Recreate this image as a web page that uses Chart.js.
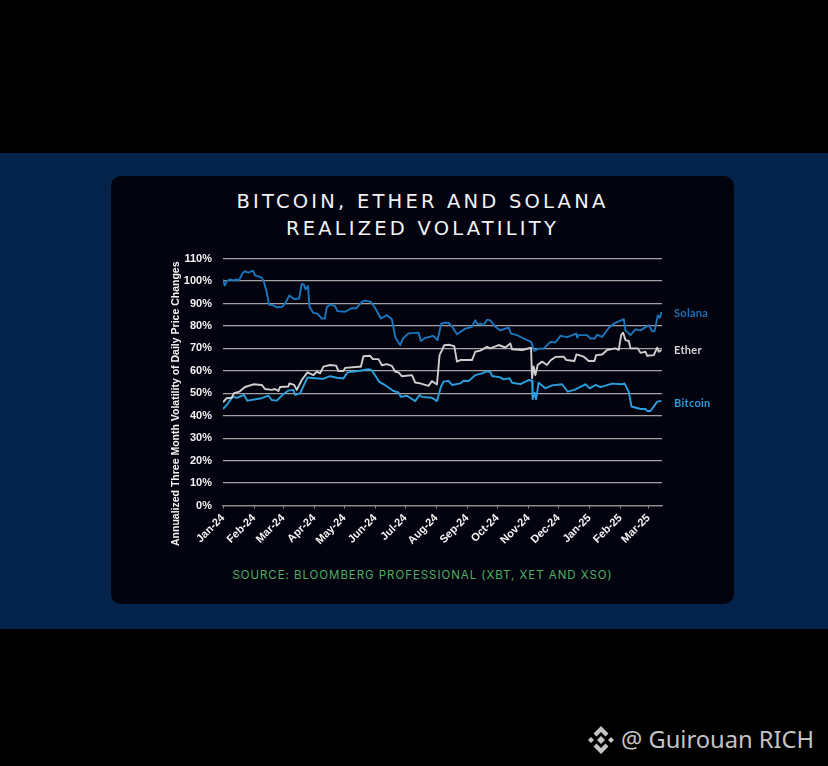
<!DOCTYPE html>
<html><head><meta charset="utf-8">
<style>
html,body{margin:0;padding:0;background:#000;width:828px;height:766px;overflow:hidden}
#band{position:absolute;left:0;top:153px;width:828px;height:476px;background:#03234a}
#card{position:absolute;left:111px;top:176px;width:623px;height:428px;background:#02030f;border-radius:10px}
.t{position:absolute;white-space:nowrap;text-align:center}
#title{left:111px;width:623px;top:188px;color:#f0f2f4;font:400 19.5px/27px "DejaVu Sans",sans-serif;letter-spacing:3.2px}
#source{left:111px;width:623px;top:567px;color:#4fae62;font:400 11.5px/16px "Inter",sans-serif;letter-spacing:.95px}
#wm{left:621px;top:724px;color:#c4c4c4;font:400 23.7px/30px "Noto Sans",sans-serif}
#logo{position:absolute;left:587px;top:726px}
#wrap{position:absolute;left:160px;top:241px;width:560px;height:314px}
</style></head><body>
<div id="band"></div><div id="card"></div>
<div class="t" id="title">BITCOIN, ETHER AND SOLANA<br>REALIZED VOLATILITY</div>
<div id="wrap"><canvas id="c" width="560" height="314"></canvas></div>
<div class="t" id="source">SOURCE: BLOOMBERG PROFESSIONAL (XBT, XET AND XSO)</div>
<svg id="logo" width="28" height="28" viewBox="0 0 28 28" fill="#c4c4c4">
<path d="M14 0l7.500 7.500-3 3L14 6l-4.500 4.500-3-3z"/><path d="M14 28l7.500-7.500-3-3L14 22l-4.500-4.500-3 3z"/>
<path d="M4 11L7 14 4 17 1 14z"/><path d="M24 11L27 14 24 17 21 14z"/>
<path d="M14 10L18 14 14 18 10 14z"/>
</svg>
<div class="t" id="wm">@ Guirouan RICH</div>
<script src="https://cdn.jsdelivr.net/npm/chart.js@4"></script>
<script>
const tickDays=[0,31,60,91,121,152,182,213,244,274,305,335,366,397,425];
const tickLabels=["Jan-24","Feb-24","Mar-24","Apr-24","May-24","Jun-24","Jul-24","Aug-24","Sep-24","Oct-24","Nov-24","Dec-24","Jan-25","Feb-25","Mar-25"];
const yTicks=[0,10,20,30,40,50,60,70,80,90,100,110];

const solanaDays=[0,1.7,3.7,7,10,13.7,16,19.7,22,25.3,30,32,38.7,41,43.7,46,50,53.7,58.7,62,66.3,71,76,78.7,81,82.3,85,86.3,90.3,94.3,98.7,101.7,103.7,107,112,114.3,122,128.7,133,138.7,142,147.7,152,157.7,163.7,168.7,172,173.7,177,179.7,185.3,195.3,197.7,202,207,210,214.3,218,222,225.3,228.7,233.7,242,248.7,252,254.3,257,260.3,263.7,267,272,277,285.3,287.700,293.7,300.3,307.7,311,315.3,320.3,327,332,337,343.7,353,353.7,355.3,363.7,367,371.3,373.7,378.7,385.3,390.3,400.3,402,407,412,417,425.3,428.7,431,434.3,436.3,438];
const solanaValues=[100.7,98,100,100.7,100.3,100.7,100.3,103.7,104.4,103.7,104.6,102.5,101.5,99.5,95,89.5,89.2,88.3,88.4,90,93.6,92,92.2,98.7,98.4,96.3,97.8,88.5,85.8,85.5,83.3,83.3,88.4,89.6,88.8,86.6,86.3,88,87.8,90.7,91.3,90.7,88,83.3,84.8,83,75.2,73.7,71.5,74.4,76.7,77,73.3,74.7,75.2,75.6,73.7,81,81.5,81.3,79.9,76.3,78.8,79.6,82.5,80.7,81,80.4,82.8,82.5,79.6,78,79.3,76.6,75.9,74.4,72.9,68.9,69.9,69.9,72.9,72.6,75.6,75,76.6,74.8,75.9,75.9,74.4,74.4,76.1,75.1,79.1,81,83,78,75.9,78.5,78,80.3,77.6,77.6,84.7,83.6,86.2];

const etherDays=[0,3.7,8.7,11,16.3,22,30.3,38.7,42,48.7,52,55.3,57,65.3,66.3,71,73.7,78.7,84.3,90.3,93.7,97,100.3,107,113,115.3,120.3,122,135.3,137.7,140.3,147,149.7,155.3,158.7,163.7,168.7,172,175.3,178.7,188.7,192,197,205.3,208.7,213.7,216.3,218.7,221,225.3,231,233.7,237,248.7,252,257,263.7,267,275.3,282,287,288.7,298.7,302,307.7,308.7,310.3,312,314.3,318.7,323.7,327,332,340.3,343,351,353,360.3,365.3,371,372.7,378.7,383.7,392,395.3,397.7,399.7,402,405.3,407,414.3,417,422,423.7,430.3,433.7,435.3,438];
const etherValues=[46,47.8,48,50,50.7,52.8,54,53.7,51.9,51.5,51.9,51,52.8,53,54.4,53.7,51.5,55.9,59.3,58.1,59.6,58.9,61.9,62.6,62.3,59.9,59.9,61.3,61.8,61.8,66.5,66.7,65.2,65.2,62.5,63,62.2,59.6,59.3,57.6,58.1,54.8,54.4,53.3,55.4,53.9,67,69.2,71.4,71.6,71,64.1,64.8,64.8,68.5,69,70.7,70,71.5,70.4,72.2,69.6,69.3,69.6,70.3,56.7,61.9,58.1,62.6,64.1,62.6,64.6,66.2,66.3,64.8,64.4,67.3,66.3,64.4,64.4,67,67.3,69.3,70,69.3,75.9,77,73.7,73.3,70,70,68,68.5,66.7,67,70.3,68.5,69.3];

const bitcoinDays=[0,4.3,9.7,13.7,21,24.3,38.7,45.3,48.7,53.7,60.3,65.3,70.3,72,77,84.3,92,100.3,103.7,107,113.7,120.3,124.3,135.3,145.3,148.7,156,162,170.3,175.3,177.7,183.7,192,196.3,198.7,208.7,213.7,217.7,220.3,225.3,228.7,237,240.3,245.3,252,258.7,263.7,267,268.7,277,280.3,286.3,288.7,297,305.3,308.7,309.3,311.3,312.7,315.3,322,328.7,338.7,344.3,351,362,366.3,372,377,388.7,398.7,401,405.3,408,417,422,423.7,427,433.7,438];
const bitcoinValues=[43,45.1,48.5,48,49.3,46.7,47.8,49,47,46.7,49.6,51.2,51.5,49.3,50,57,56.7,56.4,57.1,57.6,56.9,56.6,59.3,59.9,60.7,60.3,55.1,53.6,51,50.4,48.4,48.9,46.5,49.2,48.4,48,46.5,52.9,55.2,55.5,53.7,54.4,55.6,55.5,58.1,58.9,59.8,59.5,57.7,57.1,56.2,56.7,54.7,54.1,55.9,55.6,47.3,50.3,47.3,54.7,52.2,53.5,54,50.7,51.5,54,52.2,53.7,52.7,54.3,54,54.4,50.7,44.1,43,43,42.1,42.1,46.3,46.6];

const pairs=(xs,ys)=>xs.map((x,i)=>({x,y:ys[i]}));
const seriesList=[
 {label:"Solana",days:solanaDays,values:solanaValues,color:"#1b76bd",text:"#1f70b4",dy:1},
 {label:"Ether",days:etherDays,values:etherValues,color:"#cfcfcf",text:"#d4d4d4",dy:1},
 {label:"Bitcoin",days:bitcoinDays,values:bitcoinValues,color:"#2aa0de",text:"#2a9ada",dy:3}
];
const endLabels={id:"endLabels",afterDatasetsDraw(chart){
  const {ctx,scales:{y},chartArea}=chart;
  ctx.save();ctx.font='700 11px Lato, sans-serif';ctx.textBaseline='middle';ctx.textAlign='left';
  ctx.letterSpacing='0.3px';
  seriesList.forEach(s=>{
    ctx.fillStyle=s.text;
    ctx.fillText(s.label,chartArea.right+12,y.getPixelForValue(s.values[s.values.length-1])+s.dy);
  });
  ctx.restore();
}};
new Chart(document.getElementById("c"),{
 type:"line",
 data:{datasets:seriesList.map(s=>({label:s.label,data:pairs(s.days,s.values),borderColor:s.color,borderWidth:1.9,pointRadius:0,tension:0,borderJoinStyle:"round",fill:false}))},
 plugins:[endLabels],
 options:{
  responsive:false,animation:false,devicePixelRatio:1,
  layout:{padding:{left:0,right:58,top:3,bottom:0}},
  plugins:{legend:{display:false},tooltip:{enabled:false}},
  scales:{
   x:{type:"linear",min:0,max:438.5,
    afterBuildTicks(s){s.ticks=tickDays.map(v=>({value:v}));},
    afterFit(s){s.height=49.5;},
    grid:{drawOnChartArea:false,drawTicks:true,tickLength:3,color:"#8f8f8f",lineWidth:1},
    border:{display:true,color:"#8f8f8f",width:1.3},
    ticks:{autoSkip:false,minRotation:45,maxRotation:45,padding:3,color:"#f2f2f2",font:{family:"Liberation Sans",weight:"700",size:11},
     callback:v=>tickLabels[tickDays.indexOf(v)]}
   },
   y:{min:0,max:110,
    afterBuildTicks(s){s.ticks=yTicks.map(v=>({value:v}));},
    afterFit(s){s.width=63;},
    grid:{drawTicks:false,color:"#a3a3a3",lineWidth:1.2},
    border:{display:false},
    ticks:{padding:11,color:"#f2f2f2",font:{family:"Liberation Sans",weight:"700",size:11},callback:v=>v+"%"},
    title:{display:true,text:"Annualized Three Month Volatility of Daily Price Changes\u00a0",align:"end",color:"#f2f2f2",padding:{top:10,bottom:0},font:{family:"Liberation Sans",weight:"700",size:10.5}}
   }
  }
 }
});
</script>
</body></html>
